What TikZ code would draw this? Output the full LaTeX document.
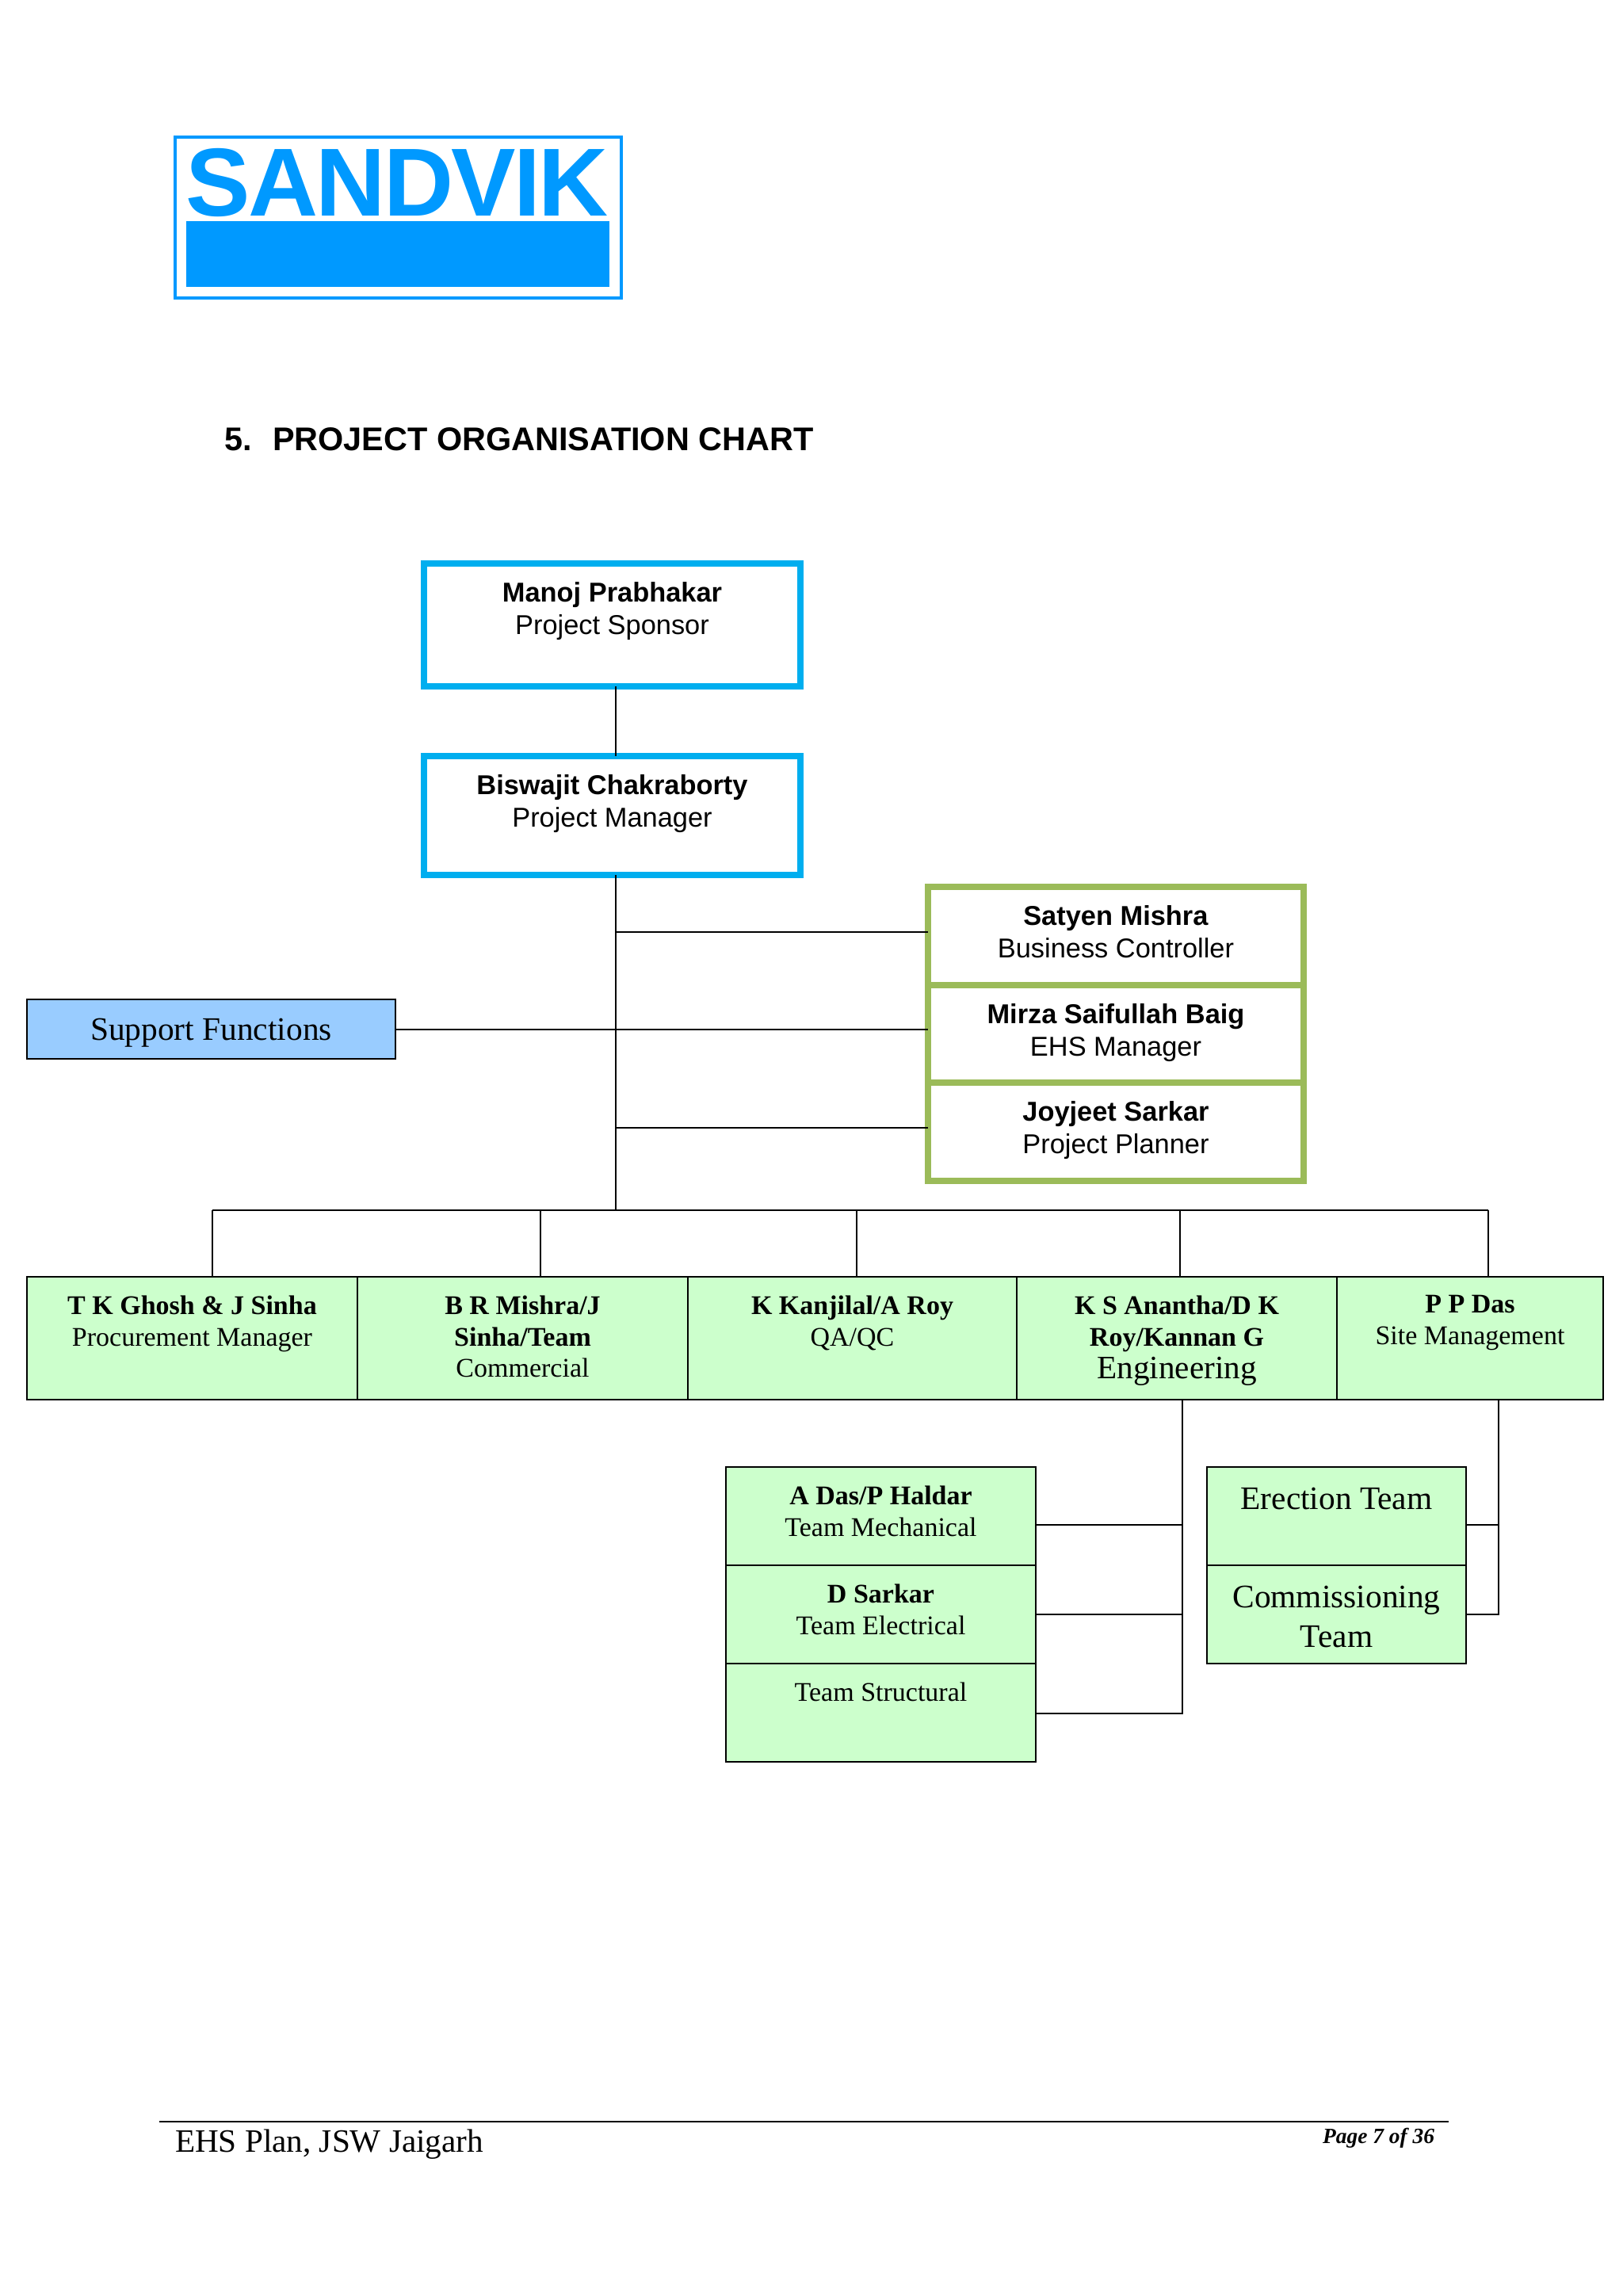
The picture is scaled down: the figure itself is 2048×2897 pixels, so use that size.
\documentclass[tikz,border=0pt]{standalone}
\usepackage{fontspec}
\setmainfont{Liberation Serif}
\setsansfont{Liberation Sans}
\newfontfamily\logofont[LetterSpace=-2.2]{Liberation Sans}
\definecolor{sandvikblue}{RGB}{0,153,255}
\definecolor{headblue}{RGB}{0,174,239}
\definecolor{staffgreen}{RGB}{155,187,89}
\definecolor{teamgreen}{RGB}{204,255,204}
\definecolor{supportblue}{RGB}{153,204,255}
\newcommand{\fsize}[2]{\fontsize{#1}{#2}\selectfont}
\begin{document}
\begin{tikzpicture}[x=0.5pt, y=-0.5pt, line width=1pt,
 sized/.style 2 args={anchor=north west, inner sep=0pt, outer sep=0pt, minimum width=#1*0.5pt, minimum height=#2*0.5pt},
 headbox/.style={draw=headblue, line width=4pt, fill=white},
 staffbox/.style={draw=staffgreen, line width=4pt, fill=white},
 teambox/.style={draw=black, fill=teamgreen},
 supportbox/.style={draw=black, fill=supportblue},
 headtxt/.style={anchor=north, align=center, font=\sffamily\fsize{17.2}{20.3}, yshift=-8pt},
 teamtxt/.style={anchor=north, align=center, font=\rmfamily\fsize{17}{19.9}, yshift=-8pt},
 bigtxt/.style={anchor=north, align=center, font=\rmfamily\fsize{20.7}{25}, yshift=-9pt}]
\useasboundingbox (0,0) rectangle (2048,2897);
% logo
\node[sized={563}{203}, draw=sandvikblue, line width=2pt] (logo) at (221,173) {};
\node[sized={534}{83}, fill=sandvikblue] (logobar) at (235,279) {};
\node[anchor=base, text=sandvikblue, font=\logofont\bfseries\fsize{61}{61}, inner sep=0pt] (logotxt) at (501,272) {SANDVIK};
% title
\node[anchor=base west, font=\sffamily\bfseries\fsize{20.7}{25}, inner sep=0pt] (secno) at (282,568) {5.};
\node[anchor=base west, font=\sffamily\bfseries\fsize{20.7}{25}, inner sep=0pt] (title) at (343,568) {PROJECT ORGANISATION CHART};
% boxes
\node[sized={475}{155}, headbox] (sponsor) at (535,711) {};
\node[sized={475}{150}, headbox] (pm) at (535,954) {};
\node[sized={474}{124}, staffbox] (bc) at (1171,1119) {};
\node[sized={474}{123}, staffbox] (ehs) at (1171,1243) {};
\node[sized={474}{124}, staffbox] (planner) at (1171,1366) {};
\node[sized={465}{75}, supportbox] (support) at (34,1261) {};
\foreach \nm/\x/\w in {ghosh/34/417, mishra/451/417, kanjilal/868/415, anantha/1283/404, das/1687/336}
 \node[sized={\w}{155}, teambox] (\nm) at (\x,1611) {};
\foreach \nm/\y in {mech/1851, elec/1975, struct/2099}
 \node[sized={391}{124}, teambox] (\nm) at (916,\y) {};
\foreach \nm/\y in {erect/1851, comm/1975}
 \node[sized={327}{124}, teambox] (\nm) at (1523,\y) {};
% connectors
\coordinate (spine) at (777,1527);
\coordinate (busL) at (268,1527);
\coordinate (busR) at (1878,1527);
\coordinate (bcj) at (777,1176);
\coordinate (plj) at (777,1423);
\coordinate (engA) at (1492,1924);
\coordinate (engB) at (1492,2037);
\coordinate (engC) at (1492,2162);
\coordinate (siteA) at (1891,1924);
\coordinate (siteB) at (1891,2037);
\draw (sponsor.south -| spine) -- (pm.north -| spine);
\draw (pm.south -| spine) -- (spine);
\draw (busL) -- (busR);
\draw (bcj) -- (bc.west |- bcj);
\draw (support.east) -- (ehs.west |- support.east);
\draw (plj) -- (planner.west |- plj);
\foreach \nm/\x in {ghosh/268, mishra/682, kanjilal/1081, anantha/1489, das/1878}
 \draw (\x,1527) -- (\nm.north -| {\x,1527});
\draw (anantha.south -| engC) -- (engC) -- (struct.east |- engC);
\draw (mech.east |- engA) -- (engA);
\draw (elec.east |- engB) -- (engB);
\draw (das.south -| siteB) -- (siteB) -- (comm.east |- siteB);
\draw (erect.east |- siteA) -- (siteA);
% box texts
\node[headtxt] (sponsortxt) at (sponsor.north) {\textbf{Manoj Prabhakar}\\Project Sponsor};
\node[headtxt] (pmtxt) at (pm.north) {\textbf{Biswajit Chakraborty}\\Project Manager};
\node[headtxt] (bctxt) at (bc.north) {\textbf{Satyen Mishra}\\Business Controller};
\node[headtxt] (ehstxt) at (ehs.north) {\textbf{Mirza Saifullah Baig}\\EHS Manager};
\node[headtxt] (plannertxt) at (planner.north) {\textbf{Joyjeet Sarkar}\\Project Planner};
\node[font=\rmfamily\fsize{20.7}{25}, yshift=-2.3pt] (supporttxt) at (support.center) {Support Functions};
\node[teamtxt] (ghoshtxt) at (ghosh.north) {\textbf{T K Ghosh \& J Sinha}\\Procurement Manager};
\node[teamtxt] (mishratxt) at (mishra.north) {\textbf{B R Mishra/J}\\\textbf{Sinha/Team}\\Commercial};
\node[teamtxt] (kanjilaltxt) at (kanjilal.north) {\textbf{K Kanjilal/A Roy}\\QA/QC};
\node[teamtxt] (ananthatxt) at (anantha.north) {\textbf{K S Anantha/D K}\\\textbf{Roy/Kannan G}\\[1pt]{\fsize{20.6}{20.6}Engineering}};
\node[teamtxt] (dastxt) at (das.north) {\textbf{P P Das}\\Site Management};
\node[teamtxt] (mechtxt) at (mech.north) {\textbf{A Das/P Haldar}\\Team Mechanical};
\node[teamtxt] (electxt) at (elec.north) {\textbf{D Sarkar}\\Team Electrical};
\node[teamtxt] (structtxt) at (struct.north) {Team Structural};
\node[bigtxt] (erecttxt) at (erect.north) {Erection Team};
\node[bigtxt] (commtxt) at (comm.north) {Commissioning\\Team};
% footer
\coordinate (footL) at (201,2677);
\coordinate (footR) at (1828,2677);
\draw (footL) -- (footR);
\node[anchor=base west, font=\rmfamily\fsize{20.6}{25}, inner sep=0pt] (plantxt) at (220,2715) {EHS Plan, JSW Jaigarh};
\node[anchor=base east, font=\rmfamily\bfseries\itshape\fsize{13.7}{16}, inner sep=0pt] (pagetxt) at (1811,2704) {Page 7 of 36};
\end{tikzpicture}
\end{document}
